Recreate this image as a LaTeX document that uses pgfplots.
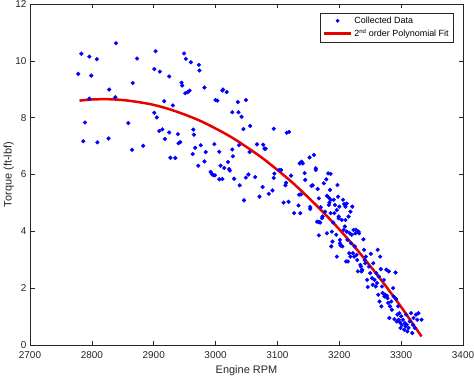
\documentclass[border=0pt]{standalone}
\usepackage{pgfplots}
\pgfplotsset{compat=1.18}
\usepackage{fontspec}
\setmainfont{Liberation Sans}
\definecolor{axgray}{RGB}{38,38,38}
\definecolor{mblue}{RGB}{0,0,255}
\definecolor{mred}{RGB}{230,0,0}
\begin{document}
\begin{tikzpicture}
\begin{axis}[
  scale only axis, width=433bp, height=341bp,
  xmin=2700, xmax=3400, ymin=0, ymax=12,
  xtick={2700,2800,...,3400}, ytick={0,2,...,12},
  tick align=inside, major tick length=4.5bp,
  axis line style={axgray, line width=0.6bp},
  every tick/.style={axgray, line width=0.6bp},
  tick label style={font=\fontsize{10}{12}\selectfont, text=axgray},
  xticklabel style={yshift=-3bp},
  /pgf/number format/assume math mode=true,
  /pgf/number format/1000 sep={},
  xlabel={Engine RPM}, ylabel={Torque (ft-lbf)},
  label style={font=\fontsize{11}{13}\selectfont, text=axgray},
  xlabel style={at={(axis description cs:0.5,0)}, anchor=north, yshift=-17bp},
  ylabel style={at={(axis description cs:0,0.5)}, anchor=south, yshift=15bp, inner sep=1bp},
  legend style={at={(1,1)}, anchor=north east, xshift=-9bp, yshift=-9bp,
    font=\fontsize{9}{11}\selectfont, draw=axgray, line width=0.6bp,
    inner xsep=3bp, inner ysep=1.5bp, row sep=0bp, cells={anchor=west}},
  legend cell align=left,
  clip=false,
]
\addplot[only marks, mark=*, mark size=1.9bp, mblue, mark options={draw=mblue, fill=mblue},
  legend image code/.code={\fill[mblue] (13.5bp,0bp) circle (1.6bp); \path[draw=none] (0bp,-1bp) rectangle (27bp,1bp);}] table {
x y
2778 9.54
2783 10.25
2796 10.15
2808 10.06
2799 9.48
2796 8.67
2789 7.83
2786 7.17
2809 7.13
2828 8.99
2838 8.72
2839 10.62
2827 7.27
2859 7.81
2866 9.22
2865 6.87
2873 10.08
2883 7.01
2901 9.71
2903 10.34
2901 8.17
2905 8.01
2910 9.62
2909 7.53
2914 7.59
2917 8.58
2918 7.25
2925 9.45
2925 7.48
2927 6.59
2931 8.43
2935 6.58
2939 7.42
2940 7.10
2943 7.14
2945 9.23
2946 9.13
2949 10.26
2952 10.07
2951 8.86
2955 8.90
2958 8.95
2960 9.95
2963 6.72
2964 7.58
2965 7.40
2967 6.94
2972 6.31
2973 9.86
2974 9.66
2976 7.03
2982 9.06
2984 6.79
2982 6.46
2992 6.09
2994 6.02
2996 5.98
2999 5.97
2998 7.07
3000 8.62
3003 8.60
3006 6.80
3006 5.83
3011 5.84
3008 6.31
3011 8.95
3012 8.99
3014 6.23
3018 8.90
3020 6.44
3022 6.19
3023 6.14
3027 8.19
3027 6.88
3028 6.64
3030 5.85
3036 8.55
3037 8.19
3038 7.03
3039 5.62
3042 8.03
3045 7.60
3046 5.09
3049 8.62
3049 5.89
3053 6.00
3055 6.79
3056 7.71
3064 5.91
3067 7.06
3071 5.22
3076 5.56
3077 7.05
3079 6.91
3081 6.91
3086 5.32
3092 5.44
3094 5.88
3094 7.61
3095 6.03
3103 6.16
3106 6.16
3110 5.01
3113 5.62
3114 5.71
3115 7.47
3119 7.50
3118 5.04
3122 5.96
3127 4.64
3134 4.91
3135 5.29
3137 4.64
3136 6.39
3139 6.45
3141 6.39
3138 5.30
3144 6.05
3145 5.81
3152 6.60
3153 4.86
3153 4.79
3155 5.60
3157 5.62
3159 6.69
3162 6.22
3162 6.16
3165 5.49
3167 5.16
3167 4.33
3164 4.34
3167 3.86
3169 4.31
3170 4.85
3172 4.46
3173 4.52
3175 5.69
3177 4.69
3179 5.83
3180 5.25
3180 3.93
3182 6.04
3183 5.19
3183 4.93
3184 5.01
3185 5.46
3186 6.02
3186 4.64
3186 5.11
3187 3.47
3188 3.99
3189 3.64
3190 4.31
3191 5.11
3192 4.64
3193 4.93
3195 3.88
3196 4.75
3197 5.63
3198 5.22
3199 4.46
3199 4.52
3200 4.87
3201 3.70
3196 3.11
3201 3.58
3202 3.50
3204 4.40
3205 3.47
3206 5.11
3207 4.05
3208 4.96
3209 4.17
3210 4.40
3210 4.87
3211 2.94
3212 3.99
3212 4.98
3213 3.70
3214 2.94
3215 4.52
3216 3.23
3217 3.93
3218 4.69
3218 3.11
3219 3.58
3220 3.88
3221 4.87
3222 3.23
3223 4.05
3224 3.11
3225 3.47
3226 3.93
3227 4.05
3228 3.17
3229 2.99
3230 2.59
3231 3.99
3232 3.93
3234 2.82
3235 2.76
3236 2.59
3237 2.65
3239 3.72
3240 3.35
3241 2.99
3242 2.88
3243 3.11
3245 2.29
3246 2.04
3248 2.76
3250 2.53
3251 3.21
3253 2.35
3254 2.12
3255 2.88
3257 2.29
3259 2.06
3260 2.53
3261 2.18
3262 3.35
3263 1.77
3264 2.41
3265 1.53
3266 3.11
3267 2.67
3268 1.36
3269 2.06
3270 1.83
3272 2.29
3273 1.71
3274 1.77
3276 2.65
3277 1.73
3278 1.65
3279 1.48
3280 2.59
3281 0.95
3282 1.36
3284 1.53
3285 1.24
3287 2.00
3288 1.71
3289 0.91
3291 2.55
3292 1.62
3293 0.83
3294 1.07
3295 1.36
3296 0.89
3297 1.12
3298 0.80
3299 0.60
3300 1.01
3301 0.71
3303 0.89
3305 0.54
3306 0.77
3307 0.66
3308 1.07
3309 0.71
3310 0.48
3312 0.60
3314 0.83
3316 1.12
3318 0.42
3319 0.71
3320 0.95
3322 0.60
3324 1.07
3326 0.89
3328 1.12
3333 0.89
};
\addlegendentry{Collected Data}
\addplot[mred, line width=2.5bp, smooth, no marks,
  legend image code/.code={\draw[mred, line width=2.5bp] (0bp,0bp) -- (27bp,0bp);}] table {
x y
2780 8.60
2800 8.64
2825 8.65
2850 8.62
2875 8.55
2900 8.45
2925 8.30
2950 8.11
2975 7.89
3000 7.62
3025 7.32
3050 6.97
3075 6.59
3100 6.16
3125 5.70
3150 5.19
3175 4.65
3200 4.07
3225 3.45
3250 2.78
3275 2.08
3300 1.34
3310 1.03
3333 0.30
};
\addlegendentry{2\textsuperscript{nd} order Polynomial Fit}
\coordinate (bl) at (rel axis cs:0,0);
\coordinate (tr) at (rel axis cs:1,1);
\end{axis}
\pgfresetboundingbox
\path ([xshift=-30bp,yshift=-31bp]bl) rectangle ([xshift=11bp,yshift=4bp]tr);
\end{tikzpicture}
\end{document}
